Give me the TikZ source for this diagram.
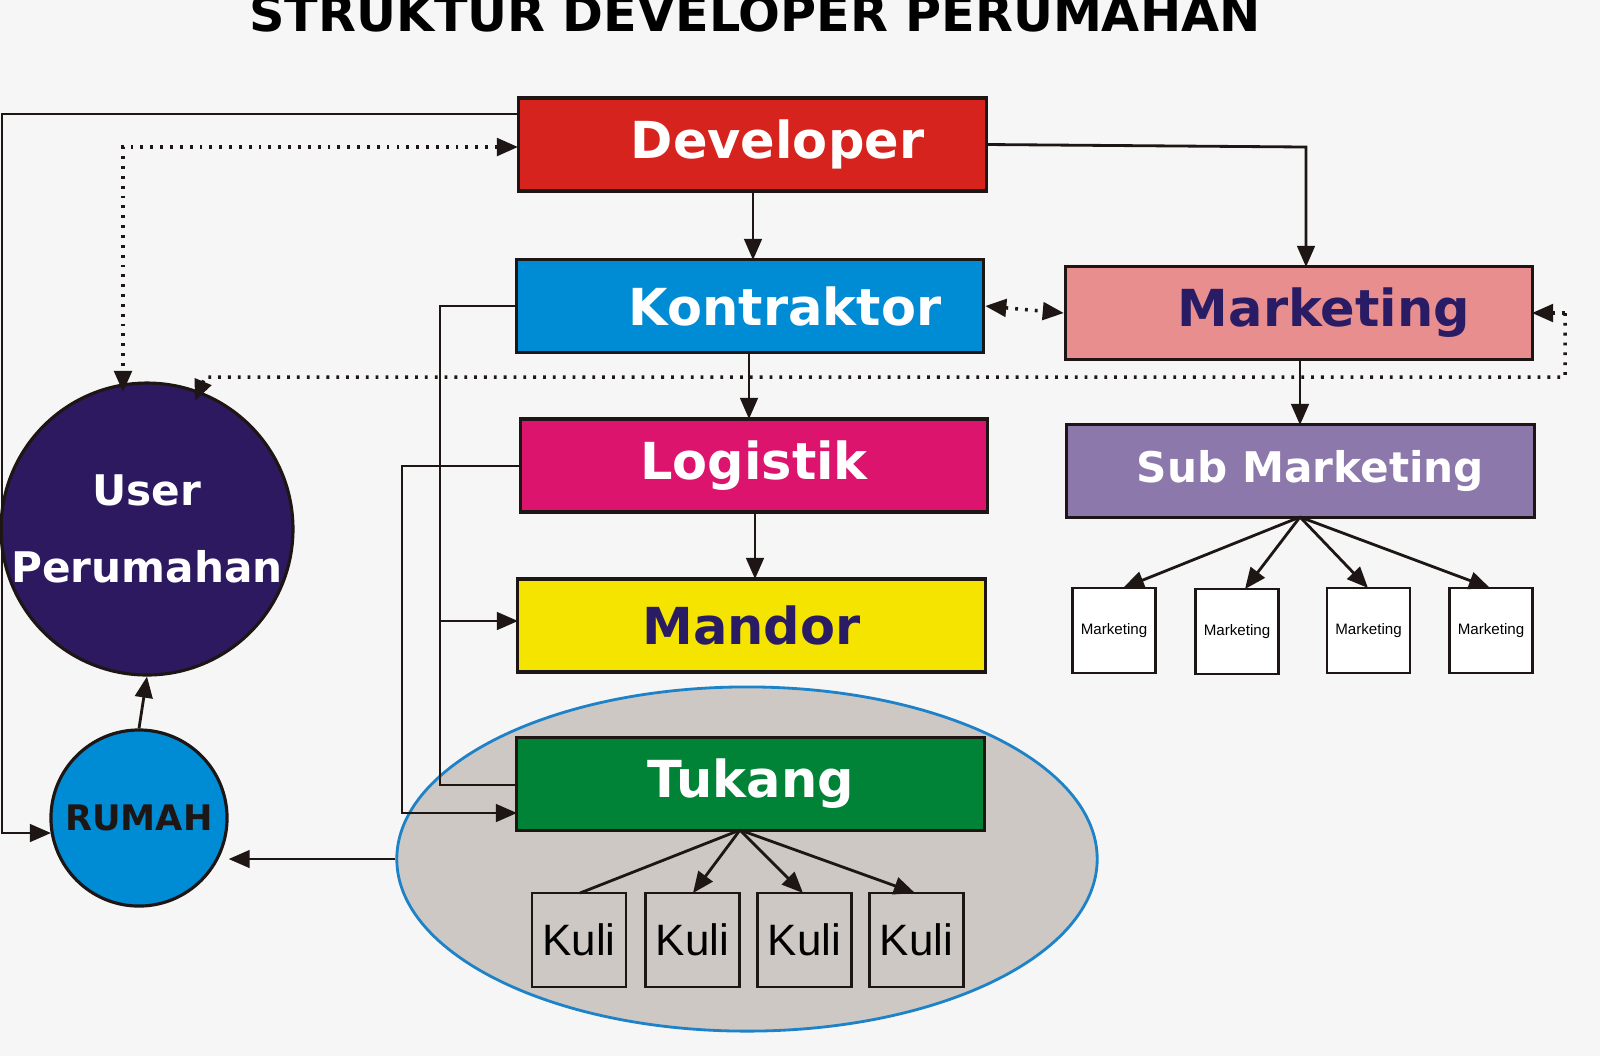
\documentclass[tikz,border=0pt]{standalone}
\usepackage{fontspec}
\setmainfont{DejaVu Sans}
\newfontfamily\arialf{Liberation Sans}
\usetikzlibrary{arrows.meta,shapes.geometric}
\definecolor{bg}{RGB}{246,246,246}
\definecolor{cdev}{RGB}{215,35,30}
\definecolor{ckon}{RGB}{0,140,212}
\definecolor{cmkt}{RGB}{232,142,142}
\definecolor{cnavy}{RGB}{42,28,100}
\definecolor{clog}{RGB}{220,20,110}
\definecolor{csub}{RGB}{140,120,170}
\definecolor{cman}{RGB}{245,228,0}
\definecolor{ctuk}{RGB}{0,130,55}
\definecolor{cell}{RGB}{205,200,195}
\definecolor{cellb}{RGB}{30,130,200}
\definecolor{cuser}{RGB}{45,25,95}
\definecolor{cline}{RGB}{30,22,20}
\begin{document}
\begin{tikzpicture}[x=0.01cm,y=-0.01cm,
  bigbox/.style={draw=cline,line width=0.9pt,inner sep=0,minimum width=4.67cm,minimum height=0.93cm,font=\bfseries\fontsize{14.5}{16}\selectfont},
  smallbox/.style={draw=cline,fill=white,line width=0.8pt,inner sep=0,minimum width=0.83cm,minimum height=0.85cm,font=\arialf\fontsize{4.3}{5}\selectfont},
  kulibox/.style={draw=cline,fill=cell,line width=0.8pt,inner sep=0,minimum size=0.94cm,font=\arialf\fontsize{12.5}{14}\selectfont},
  conn/.style={draw=cline,line width=0.8pt},
  arr/.style={conn,-{Triangle[length=6pt,width=5pt]}},
  darr/.style={conn,dotted,line width=1pt,-{Triangle[length=6pt,width=5pt]}}]
\fill[bg] (0,0) rectangle (1600,1056);
\useasboundingbox (0,0) rectangle (1600,1056);
\node[font=\bfseries\fontsize{14}{16}\selectfont] (title) at (755,14) {STRUKTUR DEVELOPER PERUMAHAN};
% ellipse
\node[draw=cellb,fill=cell,line width=0.8pt,ellipse,minimum width=7cm,minimum height=3.44cm,inner sep=0] (ell) at (747,859) {};
% boxes
\node[bigbox,fill=cdev,text=white] (dev) at (752.5,144.5) {\hspace*{0.5cm}Developer};
\node[bigbox,fill=ckon,text=white] (kon) at (750,306) {\hspace*{0.7cm}Kontraktor};
\node[bigbox,fill=cmkt,text=cnavy] (mkt) at (1299,313) {\hspace*{0.5cm}Marketing};
\node[bigbox,fill=clog,text=white] (log) at (754,465.5) {Logistik};
\node[bigbox,fill=csub,text=white,font=\bfseries\fontsize{12}{14}\selectfont] (sub) at (1300.5,471) {\hspace*{0.2cm}Sub Marketing};
\node[bigbox,fill=cman,text=cnavy] (man) at (751.5,625.5) {Mandor};
\node[bigbox,fill=ctuk,text=white] (tuk) at (750.5,784) {Tukang};
% small marketing
\node[smallbox] (m1) at (1114,630.5) {Marketing};
\node[smallbox] (m2) at (1237,631.5) {Marketing};
\node[smallbox] (m3) at (1368.5,630.5) {Marketing};
\node[smallbox] (m4) at (1491,630.5) {Marketing};
% kuli
\node[kulibox] (k1) at (579,940) {Kuli};
\node[kulibox] (k2) at (692.5,940) {Kuli};
\node[kulibox] (k3) at (804.5,940) {Kuli};
\node[kulibox] (k4) at (916.5,940) {Kuli};
% circles
\node[circle,draw=cline,line width=0.9pt,fill=cuser,minimum size=2.74cm,inner sep=0,text=white,align=center,font=\bfseries\fontsize{12}{22}\selectfont] (user) at (147,529) {User\\Perumahan};
\node[circle,draw=cline,line width=0.9pt,fill=ckon,minimum size=1.76cm,inner sep=0,text=cline,font=\bfseries\fontsize{10}{12}\selectfont] (rumah) at (139,818) {RUMAH};
% connectors
\coordinate (tk) at (740,830);
\draw[arr] (753,191) -- (753,260);
\draw[arr] (dev.east) -- (1306,147) -- (1306,267);
\draw[darr,{Triangle[length=6pt,width=5pt]}-{Triangle[length=6pt,width=5pt]}] (kon.east) -- (mkt.west);
\draw[arr] (749,352) -- (749,419);
\draw[arr] (755,512) -- (755,579);
\draw[arr] (1300,359) -- (1300,425);
\coordinate (sb) at (1300,517);
\draw[arr] (sb) -- (1123,588);
\draw[arr] (sb) -- (1245,589);
\draw[arr] (sb) -- (1368,588);
\draw[arr] (sb) -- (1490,588);
\draw[conn] (tk) -- (580,893);
\draw[arr] (tk) -- (693,893);
\draw[arr] (tk) -- (803,893);
\draw[arr] (tk) -- (915,893);
% left lines
\draw[arr] (519,114) -- (2,114) -- (2,833) -- (51,833);
\draw[darr,{Triangle[length=6pt,width=5pt]}-{Triangle[length=6pt,width=5pt]}] (518,147) -- (123,147) -- (123,392);
\draw[darr] (1565,313) -- (1532,313);
\draw[darr] (1565,313) -- (1565,377) -- (205,377) -- (195,401);
\draw[conn] (517,306) -- (440,306) -- (440,785) -- (517,785);
\draw[arr] (440,621) -- (518,621);
\draw[arr] (521,466) -- (402,466) -- (402,813) -- (517,813);
\draw[arr] (ell.west) -- (rumah.east |- ell.west);
\draw[arr] (rumah.north) -- (user.south);
\end{tikzpicture}
\end{document}
